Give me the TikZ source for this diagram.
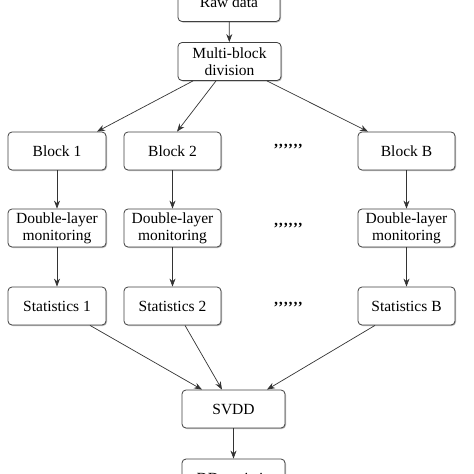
\documentclass[tikz,border=0pt]{standalone}
\usepackage{fontspec}
\setmainfont{Liberation Serif}
\usetikzlibrary{arrows.meta,shadows}
\newcommand{\sixmarks}{{,}\kern1pt{,}\kern1pt{,}\kern1pt{,}\kern1pt{,}\kern1pt{,}}
\begin{document}
\begin{tikzpicture}[x=1pt,y=1pt,
  box/.style={draw=black!75, line width=0.8pt, rounded corners=4pt, fill=white,
    minimum height=38pt, inner sep=1pt, align=center, font=\fontsize{15.5}{17}\selectfont,
    drop shadow={shadow xshift=1pt, shadow yshift=-1pt, fill=black!45, opacity=0.6}},
  arr/.style={draw=black!80, line width=0.7pt, -{Stealth[length=8pt,width=6pt]}},
  dots/.style={font=\fontsize{15.5}{17}\selectfont\bfseries\itshape, inner sep=0pt}]
\useasboundingbox (0,0) rectangle (474,-474);
\clip (0,0) rectangle (474,-474);
\node[box, minimum width=102pt] (raw) at (229,-2.5) {Raw data};
\node[box, minimum width=103pt] (multi) at (229.5,-61.5) {Multi-block\\division};
\node[box, minimum width=98pt] (b1) at (57,-151) {Block 1};
\node[box, minimum width=97pt] (b2) at (172.5,-151) {Block 2};
\node[box, minimum width=97pt] (bB) at (406.5,-151) {Block B};
\node[dots] (d1) at (289,-147) {\sixmarks};
\node[box, minimum width=98pt] (m1) at (57,-228) {Double-layer\\monitoring};
\node[box, minimum width=97pt] (m2) at (172.5,-228) {Double-layer\\monitoring};
\node[box, minimum width=97pt] (mB) at (406.5,-228) {Double-layer\\monitoring};
\node[dots] (d2) at (289,-226) {\sixmarks};
\node[box, minimum width=98pt] (s1) at (57,-306) {Statistics 1};
\node[box, minimum width=97pt] (s2) at (172.5,-306) {Statistics 2};
\node[box, minimum width=97pt] (sB) at (406.5,-306) {Statistics B};
\node[dots] (d3) at (289,-305) {\sixmarks};
\node[box, minimum width=103pt] (svdd) at (233.5,-409) {SVDD};
\node[box, minimum width=103pt] (out) at (233.5,-478) {DD statistic};
\draw[arr] (raw) -- (multi);
\draw[arr] ([xshift=-36.5pt]multi.south) -- ([xshift=40pt]b1.north);
\draw[arr] ([xshift=-13.5pt]multi.south) -- ([xshift=4.5pt]b2.north);
\draw[arr] ([xshift=37.5pt]multi.south) -- ([xshift=-38.5pt]bB.north);
\draw[arr] (b1) -- (m1);
\draw[arr] (b2) -- (m2);
\draw[arr] (bB) -- (mB);
\draw[arr] (m1) -- (s1);
\draw[arr] (m2) -- (s2);
\draw[arr] (mB) -- (sB);
\draw[arr] ([xshift=33pt]s1.south) -- ([xshift=-31.5pt]svdd.north);
\draw[arr] ([xshift=12.5pt]s2.south) -- ([xshift=-11.5pt]svdd.north);
\draw[arr] ([xshift=-31.5pt]sB.south) -- ([xshift=33.5pt]svdd.north);
\draw[arr] (svdd) -- (out);
\end{tikzpicture}
\end{document}
